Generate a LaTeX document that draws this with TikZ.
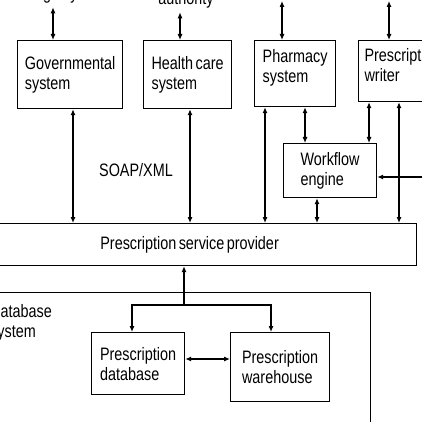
\documentclass[tikz,border=0pt]{standalone}
\usepackage{fontspec}
\setmainfont{Liberation Sans}[FakeStretch=0.8,WordSpace=0.6]
\usetikzlibrary{arrows.meta}

\tikzset{
	box/.style={draw, line width=1.2pt, anchor=north west, align=left, inner sep=0pt},
	dbl/.style={line width=1.1pt, {Latex[length=6pt,width=5pt]}-{Latex[length=6pt,width=5pt]}},
	arr/.style={line width=1.1pt, -{Latex[length=6pt,width=5pt]}},
}

\begin{document}
\begin{tikzpicture}[x=1pt, y=1pt, font=\fontsize{18}{20}\selectfont]
	\useasboundingbox (0,0) rectangle (422,-422);
	\clip (0,0) rectangle (422,-422);
	
	\node[anchor=base] (reg) at (54,0) {registry};
	\node[anchor=base] (auth) at (186,-5) {authority};
	\coordinate (phatop) at (282,-1);
	\coordinate (writop) at (389,-1);
	\coordinate (ext) at (440,-177);
	
	\node[box, minimum width=105, minimum height=68] (gov) at (17,-40) {Governmental\\system};
	\node[box, minimum width=88, minimum height=68] (hcs) at (143,-40) {Health care\\system};
	\node[box, minimum width=81, minimum height=66] (pha) at (254,-40) {Pharmacy\\system\\[-4pt]\mbox{}};
	\node[box, minimum width=88, minimum height=61] (wri) at (358,-40) {Prescription\\writer\\[-8pt]\mbox{}};
	\node[box, minimum width=93, minimum height=54] (wfe) at (283,-143) {Workflow\\engine};
	\node[box, minimum width=454, minimum height=42] (psp) at (-38,-223) {Prescription service provider};
	
	\node[draw, line width=1.2pt, anchor=north west, minimum width=430, minimum height=180] (dbs) at (-60,-292) {};
	\node[anchor=north west, align=left, inner sep=0pt] (dbslab) at (-10,-304) {Database\\system};
	\node[box, minimum width=93, minimum height=62] (pdb) at (91,-332) {Prescription\\database};
	\node[box, minimum width=99, minimum height=69] (pwh) at (230,-332) {Prescription\\warehouse};
	\coordinate (split) at (184,-305);
	
	\node (soap) at (136,-170) {SOAP/XML};
	
	\draw[dbl] (reg.south -| 53,0) -- (gov.north -| 53,0);
	\draw[dbl] (auth.south -| 180,0) -- (hcs.north -| 180,0);
	\draw[dbl] (phatop) -- (pha.north -| phatop);
	\draw[dbl] (writop) -- (wri.north -| writop);
	
	\draw[dbl] (gov.south -| 73,0) -- (psp.north -| 73,0);
	\draw[dbl] (hcs.south -| 190,0) -- (psp.north -| 190,0);
	\draw[dbl] (pha.south -| 265,0) -- (psp.north -| 265,0);
	\draw[dbl] (pha.south -| 305,0) -- (wfe.north -| 305,0);
	\draw[dbl] (wri.south -| 369,0) -- (wfe.north -| 369,0);
	\draw[dbl] (wri.south -| 399,0) -- (psp.north -| 399,0);
	\draw[dbl] (wfe.south -| 317,0) -- (psp.north -| 317,0);
	\draw[arr] (ext) -- (wfe.east |- ext);
	
	\draw[arr] (split) -- (psp.south -| split);
	\draw[arr] (split) -| (pdb.north -| 132,0);
	\draw[arr] (split) -| (pwh.north -| 271,0);
	\draw[dbl] (pdb.east |- 0,-359) -- (pwh.west |- 0,-359);
	
	%\node at (190,-210) {};
\end{tikzpicture}
\end{document}
